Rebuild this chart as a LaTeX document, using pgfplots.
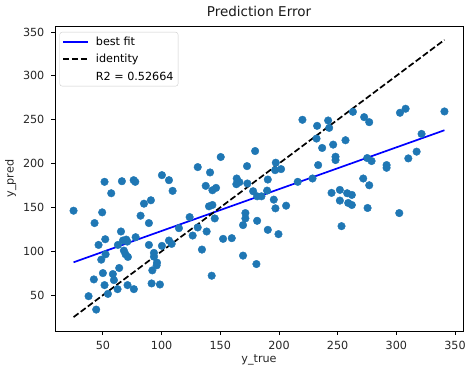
\documentclass[border=0pt]{standalone}
\usepackage{pgfplots}
\pgfplotsset{compat=1.18}
\usepackage{fontspec}
\setmainfont{DejaVu Sans}
\definecolor{c0}{HTML}{1F77B4}
\pgfplotstableread{
x y
25.0 146.3
51.4 179.2
57.1 166.2
66.2 179.9
76.2 181.1
77.6 179.2
100.3 186.8
106.3 181.1
109.4 168.9
85.0 154.3
90.9 158.2
49.4 144.4
42.9 132.2
82.1 140.6
89.2 132.2
65.4 122.6
52.0 113.8
46.3 107.3
62.8 107.3
67.1 112.3
69.9 113.4
70.8 111.1
77.9 116.1
67.9 100.8
69.3 96.6
71.3 93.6
52.3 96.6
48.6 90.5
89.2 107.3
93.5 98.2
93.5 93.9
96.1 87.1
95.8 84.0
92.1 78.3
63.9 81.0
50.0 75.2
58.5 74.1
59.4 67.2
42.3 68.0
51.4 61.5
62.5 56.9
71.0 61.5
76.4 56.9
54.3 51.5
37.8 48.9
44.3 33.6
91.5 63.4
98.6 62.2
100.3 106.2
106.3 112.3
108.6 108.5
114.8 126.4
123.9 139.0
130.8 127.2
126.5 118.0
138.4 122.6
134.4 102.0
130.8 196.0
141.3 189.9
150.4 207.5
137.6 174.6
143.3 169.6
146.4 172.3
140.4 151.3
143.3 152.8
145.3 137.5
142.7 72.2
152.4 114.2
159.8 115.0
164.0 183.0
166.3 178.8
163.7 176.5
172.8 197.1
179.7 214.3
173.1 177.3
178.0 168.5
181.4 162.7
185.1 162.7
189.9 169.2
190.5 181.8
197.3 201.0
196.7 192.5
201.8 193.7
195.6 158.9
197.0 149.0
206.1 152.0
171.4 143.6
171.4 137.5
169.4 129.9
181.4 134.8
190.5 124.5
199.6 119.6
169.4 95.1
180.8 85.5
216.0 179.2
228.6 183.0
220.0 249.9
232.5 243.0
241.9 249.1
242.8 240.7
232.0 228.5
236.8 217.8
246.2 221.6
256.7 226.6
248.2 207.8
248.2 204.0
233.4 198.3
244.8 166.6
251.9 170.0
258.1 166.2
262.1 164.3
251.9 157.8
259.0 155.1
262.1 152.8
253.3 128.7
263.0 259.0
272.6 252.9
276.9 247.2
275.2 206.3
278.9 202.9
271.8 183.0
276.9 175.3
275.5 149.4
291.7 198.3
291.7 195.2
303.1 257.9
307.9 262.5
310.2 205.9
317.3 213.6
321.5 233.8
341.0 259.4
302.5 143.6
}\pred
\begin{document}
\begin{tikzpicture}
\begin{axis}[
  name=ax,
  scale only axis,
  width=408bp, height=305bp,
  xmin=9.2, xmax=356.8, ymin=9.2, ymax=356.8,
  xtick={50,100,...,350}, ytick={50,100,...,350},
  tick align=outside, xtick pos=bottom, ytick pos=left,
  major tick length=3.9bp,
  every tick/.style={black, line width=0.9bp},
  axis line style={black, line width=0.9bp},
  /pgf/number format/assume math mode=true,
  ticklabel style={font=\fontsize{11.2bp}{13bp}\selectfont, text=black!85},
  xticklabel style={yshift=-3.2bp},
  yticklabel style={xshift=-3.2bp},
  label style={font=\fontsize{11.2bp}{13bp}\selectfont, text=black!85},
  xlabel={y\_true}, ylabel={y\_pred},
  xlabel style={yshift=2bp},
  title={Prediction Error},
  title style={font=\fontsize{13.5bp}{15bp}\selectfont, text=black!90},
  legend cell align=left,
  legend style={at={(axis description cs:0,1)}, anchor=north west, xshift=4.5bp, yshift=-6bp,
    draw=black!20, rounded corners=2.5bp, fill=white, fill opacity=0.8, text opacity=1,
    font=\fontsize{11.2bp}{13bp}\selectfont, row sep=3.6bp, inner sep=2.5bp},
  legend image code/.code={\draw[#1] (0bp,0bp) -- (25bp,0bp); \path (30bp,0bp);},
]
\addplot[only marks, mark=*, mark size=3.8bp, color=c0, mark options={draw=c0, fill=c0}, forget plot] table {\pred};
\addplot[blue, line width=1.7bp] coordinates {(25,87.5) (341,238.0)};
\addlegendentry{best fit}
\addplot[black, line width=1.7bp, dash pattern=on 6.2bp off 2.7bp] coordinates {(25,25) (341,341)};
\addlegendentry{identity}
\addlegendimage{empty legend}
\addlegendentry{R2 = 0.52664}
\end{axis}
\pgfresetboundingbox
\path[use as bounding box] ([shift={(-55bp,-44bp)}]ax.south west) rectangle ([shift={(11bp,26bp)}]ax.north east);
\end{tikzpicture}
\end{document}
